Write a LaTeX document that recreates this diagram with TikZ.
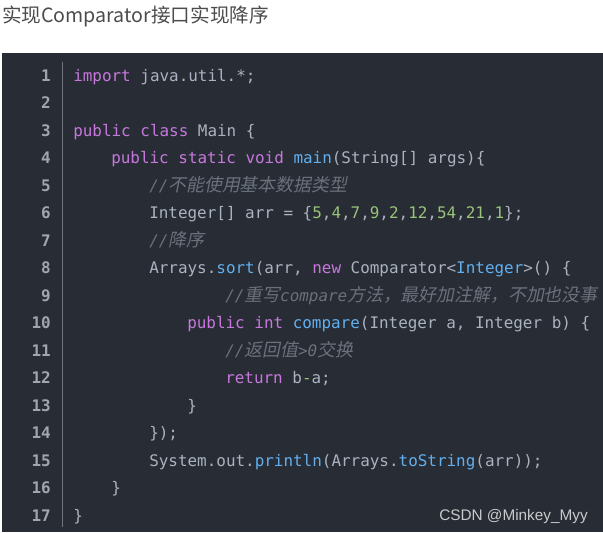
\documentclass[tikz,border=0pt]{standalone}
\usepackage{fontspec}
\setmonofont{DejaVu Sans Mono}
\newfontfamily\cjkf{Noto Sans CJK SC}
\newfontfamily\cjki[FakeSlant=0.2]{Noto Sans CJK SC}
\newfontfamily\monoi{DejaVu Sans Mono Oblique}
\newfontfamily\sansf{Liberation Sans}
\definecolor{bg}{HTML}{282C34}
\definecolor{tx}{HTML}{ABB2BF}
\definecolor{kw}{HTML}{C678DD}
\definecolor{fn}{HTML}{61AFEF}
\definecolor{nm}{HTML}{98C379}
\definecolor{cm}{HTML}{6A717C}
\definecolor{ln}{HTML}{A0A6AE}
\newcommand{\K}[1]{\textcolor{kw}{#1}}
\newcommand{\F}[1]{\textcolor{fn}{#1}}
\newcommand{\N}[1]{\textcolor{nm}{#1}}
\newcommand{\Ci}[1]{{\cjki\fontsize{13.4pt}{15pt}\selectfont #1}}
\newcommand{\Mi}[1]{{\monoi #1}}
\begin{document}
\begin{tikzpicture}[x=0.75pt,y=-0.75pt,
  code/.style={anchor=base west,inner sep=0,text=tx,font=\ttfamily\fontsize{11.95pt}{14pt}\selectfont},
  cmt/.style={code,text=cm},
  num/.style={anchor=base east,inner sep=0,text=ln,font=\ttfamily\bfseries\fontsize{11.95pt}{14pt}\selectfont}]
\useasboundingbox (0,0) rectangle (603,532);
\fill[white] (0,0) rectangle (603,532);
\node[anchor=base west,inner sep=0,text=black!70,font=\cjkf\fontsize{14.7pt}{17pt}\selectfont] (title) at (2,22) {实现Comparator接口实现降序};
\fill[bg] (2,53) rectangle (603,532);
\draw[color=ln!60!bg,line width=0.75pt] (62,62) -- (62,527);
\foreach \i in {1,...,17}{
  \node[num] (n\i) at (51,{81+27.5*(\i-1)}) {\i};
}
\def\L#1{{81+27.5*(#1-1)}}
\node[code] (l1) at (73,\L{1}) {\K{import} java.util.*;};
\node[code] (l3) at (73,\L{3}) {\K{public} \K{class} Main \{};
\node[code] (l4) at (111,\L{4}) {\K{public} \K{static} \K{void} \F{main}(String[] args)\{};
\node[cmt] (l5) at (149,\L{5}) {\Mi{//}\Ci{不能使用基本数据类型}};
\node[code] (l6) at (149,\L{6}) {Integer[] arr = \{\N{5},\N{4},\N{7},\N{9},\N{2},\N{12},\N{54},\N{21},\N{1}\};};
\node[cmt] (l7) at (149,\L{7}) {\Mi{//}\Ci{降序}};
\node[code] (l8) at (149,\L{8}) {Arrays.\F{sort}(arr, \K{new} Comparator<\F{Integer}>() \{};
\node[cmt] (l9) at (225,\L{9}) {\Mi{//}\Ci{重写}\Mi{compare}\Ci{方法，最好加注解，不加也没事}};
\node[code] (l10) at (187,\L{10}) {\K{public} \K{int} \F{compare}(Integer a, Integer b) \{};
\node[cmt] (l11) at (225,\L{11}) {\Mi{//}\Ci{返回值}\Mi{>0}\Ci{交换}};
\node[code] (l12) at (225,\L{12}) {\K{return} b\N{-}a;};
\node[code] (l13) at (187,\L{13}) {\}};
\node[code] (l14) at (149,\L{14}) {\});};
\node[code] (l15) at (149,\L{15}) {System.out.\F{println}(Arrays.\F{toString}(arr));};
\node[code] (l16) at (111,\L{16}) {\}};
\node[code] (l17) at (73,\L{17}) {\}};
\node[anchor=base east,inner sep=0,text=white!75!bg,font=\sansf\fontsize{11.5pt}{14pt}\selectfont] (wm) at (588,520) {CSDN @Minkey\_Myy};
\end{tikzpicture}
\end{document}
